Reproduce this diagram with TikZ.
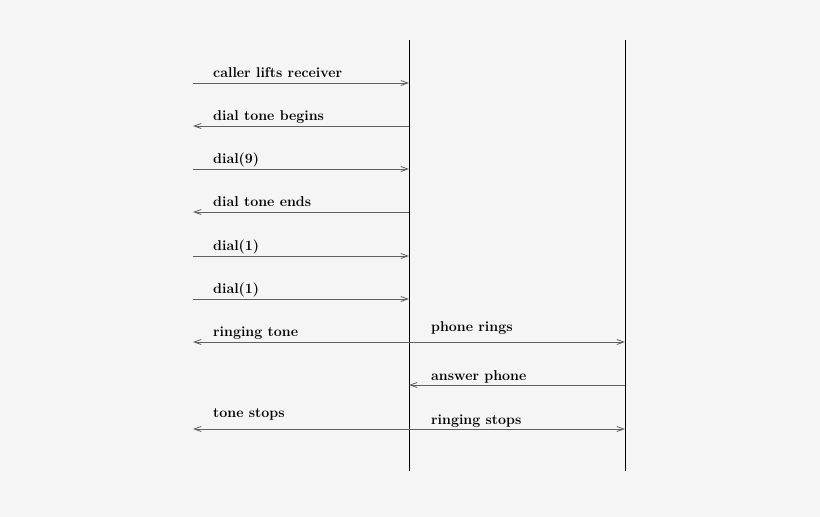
\documentclass[tikz,border=0pt]{standalone}
\usetikzlibrary{arrows.meta}
\definecolor{bg}{HTML}{F5F5F5}
\definecolor{msg}{HTML}{606060}
\begin{document}
\begin{tikzpicture}[x=1pt,y=-1pt,
  lifeline/.style={draw=black,line width=1pt},
  msgline/.style={draw=msg,line width=0.8pt,-{Straight Barb[length=7pt,width=5pt]}},
  lbl/.style={anchor=base west,inner sep=0pt,font=\fontsize{14.2}{16}\selectfont\bfseries}]
\fill[bg] (0,0) rectangle (820,517);
\useasboundingbox (0,0) rectangle (820,517);
% lifelines
\coordinate (Atop) at (409,40); \coordinate (Abot) at (409,471);
\coordinate (Btop) at (625,40); \coordinate (Bbot) at (625,471);
\draw[lifeline] (Atop) -- (Abot);
\draw[lifeline] (Btop) -- (Bbot);
% message endpoints
\foreach \i/\y in {1/83,2/126,3/169,4/212,5/256,6/299,7/342,8/385,9/429}{
  \coordinate (L\i) at (193,\y);
  \coordinate (A\i) at (409,\y);
  \coordinate (B\i) at (625,\y);
}
\draw[msgline] (L1) -- (A1);
\draw[msgline] (A2) -- (L2);
\draw[msgline] (L3) -- (A3);
\draw[msgline] (A4) -- (L4);
\draw[msgline] (L5) -- (A5);
\draw[msgline] (L6) -- (A6);
\draw[msgline] (A7) -- (L7);
\draw[msgline] (A7) -- (B7);
\draw[msgline] (B8) -- (A8);
\draw[msgline] (A9) -- (L9);
\draw[msgline] (A9) -- (B9);
% labels
\node[lbl] (t1) at (213,77) {caller lifts receiver};
\node[lbl] (t2) at (213,120) {dial tone begins};
\node[lbl] (t3) at (213,163) {dial(9)};
\node[lbl] (t4) at (213,206) {dial tone ends};
\node[lbl] (t5) at (213,250) {dial(1)};
\node[lbl] (t6) at (213,293) {dial(1)};
\node[lbl] (t7) at (213,336) {ringing tone};
\node[lbl] (t8) at (431,331) {phone rings};
\node[lbl] (t9) at (431,380) {answer phone};
\node[lbl] (t10) at (213,417) {tone stops};
\node[lbl] (t11) at (431,424) {ringing stops};
\end{tikzpicture}
\end{document}
